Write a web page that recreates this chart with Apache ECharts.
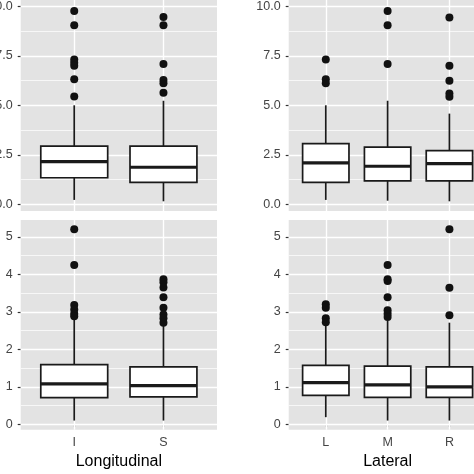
<!DOCTYPE html>
<html>
<head>
<meta charset="utf-8">
<script src="https://cdn.jsdelivr.net/npm/echarts@6/dist/echarts.min.js"></script>
<style>
  html, body { margin: 0; padding: 0; background: #fff; }
  #chart { width: 474px; height: 474px; }
</style>
</head>
<body>
<div id="chart"></div>
<script>
  // categories
  const longCats = ['I', 'S']
  const latCats = ['L', 'M', 'R']

  // boxes: [min, Q1, median, Q3, max] (top panels)
  const topLongBoxes = [[0.22, 1.34, 2.15, 2.94, 5.0], [0.15, 1.11, 1.87, 2.94, 5.23]]
  const topLatBoxes = [[0.22, 1.11, 2.09, 3.06, 5.0], [0.18, 1.18, 1.92, 2.89, 5.23], [0.15, 1.18, 2.05, 2.71, 4.58]]
  // outliers per category (top panels)
  const topLongOut = [[9.76, 9.05, 7.32, 7.15, 7.0, 6.31, 5.45], [9.46, 9.05, 7.09, 6.28, 6.11, 5.64]]
  const topLatOut = [[7.32, 6.31, 6.11], [9.76, 9.05, 7.09], [9.44, 7.0, 6.24, 5.6, 5.43]]

  // bottom panels
  const botLongBoxes = [[0.1, 0.71, 1.08, 1.59, 2.83], [0.1, 0.73, 1.03, 1.53, 2.62]]
  const botLatBoxes = [[0.19, 0.77, 1.11, 1.57, 2.64], [0.1, 0.72, 1.05, 1.55, 2.76], [0.1, 0.72, 1.0, 1.53, 2.71]]
  const botLongOut = [[5.2, 4.25, 3.18, 3.06, 2.95, 2.88], [3.87, 3.79, 3.65, 3.39, 3.11, 2.93, 2.83, 2.71]]
  const botLatOut = [[3.2, 3.11, 2.83, 2.72], [4.25, 3.87, 3.82, 3.39, 3.04, 2.95, 2.86], [5.2, 3.64, 2.91]]

  // tick labels
  const topTicks = [0, 2.5, 5, 7.5, 10]
  const topMinor = [1.25, 3.75, 6.25, 8.75]
  const botTicks = [0, 1, 2, 3, 4, 5]
  const botMinor = [0.5, 1.5, 2.5, 3.5, 4.5]

  const myChart = echarts.init(document.getElementById('chart'))

  const panelBg = '#e3e3e3'
  const tickColor = '#333'
  const labelColor = '#444'

  function yAxisFor(gridIndex, min, max, ticks, digits) {
    return {
      type: 'value', gridIndex: gridIndex, min: min, max: max,
      axisLine: { show: false },
      splitLine: { show: false },
      axisTick: { show: true, length: 3, customValues: ticks, lineStyle: { color: tickColor, width: 1.2 } },
      axisLabel: {
        customValues: ticks, margin: 8, color: labelColor, fontSize: 12.5,
        fontFamily: 'Liberation Sans',
        formatter: v => v.toFixed(digits)
      }
    }
  }

  function xAxisFor(gridIndex, cats, showLabels, name) {
    const pos = cats.map((c, i) => i + 1)
    return {
      type: 'value', gridIndex: gridIndex, min: 0.4, max: cats.length + 0.6,
      axisLine: { show: false },
      splitLine: { show: false },
      axisTick: { show: showLabels, length: 3, customValues: pos, lineStyle: { color: tickColor, width: 1.2 } },
      axisLabel: {
        show: showLabels, customValues: pos, margin: 6, color: labelColor, fontSize: 12.5,
        fontFamily: 'Liberation Sans',
        formatter: v => cats[Math.round(v) - 1]
      },
      name: showLabels ? name : '',
      nameLocation: 'middle', nameGap: 24,
      nameTextStyle: { color: '#000', fontSize: 16, fontFamily: 'Liberation Sans' }
    }
  }

  // white grid lines via markLine
  function gridSeries(idx, cats, ticks, minor) {
    const data = []
    ticks.forEach(v => data.push({ yAxis: v, lineStyle: { color: '#fff', width: 1.4, type: 'solid' } }))
    minor.forEach(v => data.push({ yAxis: v, lineStyle: { color: '#fff', width: 0.7, type: 'solid' } }))
    cats.forEach((c, i) => data.push({ xAxis: i + 1, lineStyle: { color: '#fff', width: 1.4, type: 'solid' } }))
    return {
      type: 'line', xAxisIndex: idx, yAxisIndex: idx, data: [], z: 1, silent: true,
      markLine: { z: 1, symbol: 'none', silent: true, label: { show: false }, animation: false, data: data }
    }
  }

  function boxSeries(idx, boxes) {
    return {
      type: 'custom', xAxisIndex: idx, yAxisIndex: idx, z: 3, silent: true,
      data: boxes.map((b, i) => [i + 1].concat(b)),
      encode: { x: 0, y: [1, 2, 3, 4, 5] },
      renderItem: function (params, api) {
        const x = api.value(0)
        const w = api.size([0.75, 0])[0]
        const pMin = api.coord([x, api.value(1)])
        const pQ1 = api.coord([x, api.value(2)])
        const pMed = api.coord([x, api.value(3)])
        const pQ3 = api.coord([x, api.value(4)])
        const pMax = api.coord([x, api.value(5)])
        const lw = 1.7
        return {
          type: 'group',
          children: [
            { type: 'line', shape: { x1: pMin[0], y1: pMin[1], x2: pQ1[0], y2: pQ1[1] }, style: { stroke: '#1a1a1a', lineWidth: lw } },
            { type: 'line', shape: { x1: pQ3[0], y1: pQ3[1], x2: pMax[0], y2: pMax[1] }, style: { stroke: '#1a1a1a', lineWidth: lw } },
            { type: 'rect', shape: { x: pQ3[0] - w / 2, y: pQ3[1], width: w, height: pQ1[1] - pQ3[1] }, style: { fill: '#fff', stroke: '#1a1a1a', lineWidth: lw } },
            { type: 'line', shape: { x1: pMed[0] - w / 2, y1: pMed[1], x2: pMed[0] + w / 2, y2: pMed[1] }, style: { stroke: '#1a1a1a', lineWidth: 3.2 } }
          ]
        }
      }
    }
  }

  function outSeries(idx, outs) {
    const pts = []
    outs.forEach((arr, i) => arr.forEach(v => pts.push([i + 1, v])))
    return {
      type: 'scatter', xAxisIndex: idx, yAxisIndex: idx, z: 4, silent: true,
      symbolSize: 8, itemStyle: { color: '#111', opacity: 1 },
      data: pts
    }
  }

  const gridBase = { show: true, backgroundColor: panelBg, borderWidth: 0, containLabel: false, outerBoundsMode: 'none' }

  const option = {
    backgroundColor: '#fff',
    animation: false,
    grid: [
      Object.assign({ left: 20.7, top: 0, width: 196.3, height: 211 }, gridBase),
      Object.assign({ left: 288.7, top: 0, width: 197.8, height: 211 }, gridBase),
      Object.assign({ left: 20.7, top: 220, width: 196.3, height: 209.7 }, gridBase),
      Object.assign({ left: 288.7, top: 220, width: 197.8, height: 209.7 }, gridBase)
    ],
    xAxis: [
      xAxisFor(0, longCats, false, ''),
      xAxisFor(1, latCats, false, ''),
      xAxisFor(2, longCats, true, 'Longitudinal'),
      xAxisFor(3, latCats, true, 'Lateral')
    ],
    yAxis: [
      yAxisFor(0, -0.34, 10.32, topTicks, 1),
      yAxisFor(1, -0.34, 10.32, topTicks, 1),
      yAxisFor(2, -0.144, 5.448, botTicks, 0),
      yAxisFor(3, -0.144, 5.448, botTicks, 0)
    ],
    series: [
      gridSeries(0, longCats, topTicks, topMinor),
      gridSeries(1, latCats, topTicks, topMinor),
      gridSeries(2, longCats, botTicks, botMinor),
      gridSeries(3, latCats, botTicks, botMinor),
      boxSeries(0, topLongBoxes),
      boxSeries(1, topLatBoxes),
      boxSeries(2, botLongBoxes),
      boxSeries(3, botLatBoxes),
      outSeries(0, topLongOut),
      outSeries(1, topLatOut),
      outSeries(2, botLongOut),
      outSeries(3, botLatOut)
    ]
  }

  option && myChart.setOption(option)
</script>
</body>
</html>
